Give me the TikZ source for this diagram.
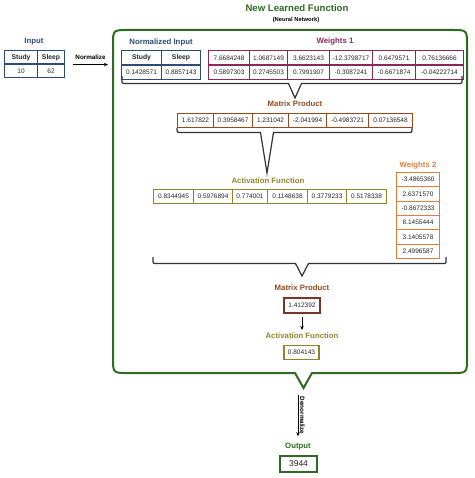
\documentclass[tikz,border=0pt]{standalone}
\usepackage{fontspec}
\setmainfont{Liberation Sans}
\usetikzlibrary{arrows.meta, positioning, calc}

\definecolor{inblue}{HTML}{2C4B78}
\definecolor{wonecol}{HTML}{8A2858}
\definecolor{mpcol}{HTML}{94491F}
\definecolor{afcol}{HTML}{8C8729}
\definecolor{wtwocol}{HTML}{E27E3A}
\definecolor{nngreen}{HTML}{2F6A22}
\definecolor{mptwocol}{HTML}{7A3429}

\tikzset{
  cell/.style={draw, line width=1.1pt, fill=white, inner sep=0pt, anchor=north west,
    text=black!85, font=\fontsize{6.5}{7}\selectfont},
  head/.style={cell, font=\fontsize{6.8}{8}\selectfont\bfseries},
  lbl/.style={inner sep=0pt, font=\fontsize{7.8}{9}\selectfont\bfseries},
  brace/.style={line width=1.2pt, black!80},
  arr/.style={-{Stealth[length=4pt,width=3.5pt]}, line width=0.9pt},
}

\begin{document}
\begin{tikzpicture}[x=1pt, y=-1pt]
  \useasboundingbox (0,0) rectangle (474,478);

  % title
  \node[lbl, text=nngreen, font=\fontsize{9.6}{11}\selectfont\bfseries] (title) at (297,8) {New Learned Function};
  \node[lbl, font=\fontsize{5.8}{7}\selectfont\bfseries] (subtitle) at (296,20) {(Neural Network)};

  % green frame with notch
  \draw[nngreen, line width=2pt] (113,45) -- (113,358) .. controls (113,373) .. (128,373)
    -- (295,373) -- (303.5,388) -- (312,373) -- (452,373) .. controls (467,373) .. (467,358)
    -- (467,45) .. controls (467,30) .. (452,30) -- (128,30) .. controls (113,30) .. (113,45) -- cycle;

  % input
  \node[lbl, text=inblue] (inlbl) at (34,42) {Input};
  \foreach \x/\w/\v [count=\i] in {4/33/Study, 37/27/Sleep}
    \node[head, draw=inblue, minimum width=\w pt, minimum height=13.5pt] (in-1-\i) at (\x,50) {\v};
  \foreach \x/\w/\v [count=\i] in {4/33/10, 37/27/62}
    \node[cell, draw=inblue, minimum width=\w pt, minimum height=13.5pt] (in-2-\i) at (\x,63.5) {\v};

  % normalized input
  \node[lbl, text=inblue] (ninlbl) at (161,42) {Normalized Input};
  \foreach \x/\w/\v [count=\i] in {121/40/Study, 161/39/Sleep}
    \node[head, draw=inblue, minimum width=\w pt, minimum height=14.5pt] (nin-1-\i) at (\x,50) {\v};
  \foreach \x/\w/\v [count=\i] in {121/40/0.1428571, 161/39/0.8857143}
    \node[cell, draw=inblue, minimum width=\w pt, minimum height=14.5pt] (nin-2-\i) at (\x,64.5) {\v};

  \draw[arr] ([xshift=8pt]in-1-2.south east) -- ($(in-1-2.south east -| nin-1-1.west)+(-13,0)$)
    node[midway, above=1.5pt, font=\fontsize{6.3}{7}\selectfont\bfseries] {Normalize};

  % weights 1
  \node[lbl, text=wonecol] (wonelbl) at (335,42) {Weights 1};
  \foreach \x/\w/\v [count=\i] in {208/41/7.6684248, 249/38/1.0687149, 287/42/3.6623143,
      329/43/-12.3798717, 372/43/0.6479571, 415/48/0.76136666}
    \node[cell, draw=wonecol, minimum width=\w pt, minimum height=14.5pt] (wone-1-\i) at (\x,50) {\v};
  \foreach \x/\w/\v [count=\i] in {208/41/0.5897303, 249/38/0.2745503, 287/42/0.7991907,
      329/43/-0.3087241, 372/43/-0.6671874, 415/48/-0.04222714}
    \node[cell, draw=wonecol, minimum width=\w pt, minimum height=14.5pt] (wone-2-\i) at (\x,64.5) {\v};

  \draw[brace] (122,76) -- (122,80) .. controls (122,83.5) .. (125.5,83.5) -- (288.5,83.5)
    -- (295,98) -- (301.5,83.5) -- (458.5,83.5) .. controls (462,83.5) .. (462,80) -- (462,76);

  % matrix product
  \node[lbl, text=mpcol] (mponelbl) at (295,104) {Matrix Product};
  \foreach \x/\w/\v [count=\i] in {177/36/1.617822, 213/39/0.3958467, 252/36/1.231042,
      288/38/-2.041994, 326/42/-0.4983721, 368/44/0.07136548}
    \node[cell, draw=mpcol, minimum width=\w pt, minimum height=14pt] (mpone-\i) at (\x,113) {\v};

  \draw[brace] (177,128) -- (177,129.5) .. controls (177,132.5) .. (180,132.5) -- (260.5,132.5)
    -- (267,173) -- (273.5,132.5) -- (409,132.5) .. controls (412,132.5) .. (412,129.5) -- (412,128);

  % activation function
  \node[lbl, text=afcol] (afonelbl) at (268,181) {Activation Function};
  \foreach \x/\w/\v [count=\i] in {153/40/0.8344945, 193/39/0.5976894, 232/35/0.774001,
      267/40/0.1148638, 307/39/0.3779233, 346/40/0.5178338}
    \node[cell, draw=afcol, minimum width=\w pt, minimum height=14.5pt] (afone-\i) at (\x,188.5) {\v};

  % weights 2
  \node[lbl, text=wtwocol] (wtwolbl) at (418,166) {Weights 2};
  \foreach \v [count=\i] in {-3.4865360, 2.6371570, -0.8672333, 8.1455444, 3.1405578, 2.4996587}
    \node[cell, draw=wtwocol, minimum width=43pt, minimum height=14.33pt] (wtwo-\i) at (396,{172+14.33*(\i-1)}) {\v};

  \draw[brace] (153,257) -- (153,260) .. controls (153,263.5) .. (156.5,263.5) -- (295.5,263.5)
    -- (302,276) -- (308.5,263.5) -- (442.5,263.5) .. controls (446,263.5) .. (446,260) -- (446,257);

  % output of the network
  \node[lbl, text=mpcol] (mptwolbl) at (302,288) {Matrix Product};
  \node[cell, anchor=center, draw=mptwocol, minimum width=36pt, minimum height=15pt] (mptwo) at (302,305.5) {1.412392};
  \node[lbl, text=afcol] (aftwolbl) at (302,336) {Activation Function};
  \node[cell, anchor=center, draw=afcol, minimum width=35pt, minimum height=13.5pt] (aftwo) at (301.5,352.5) {0.804143};
  \draw[arr] ([yshift=-3pt]mptwo.south) -- ([yshift=3pt]aftwolbl.north);

  % denormalized output
  \node[lbl, text=nngreen] (outlbl) at (298,447) {Output};
  \node[cell, anchor=center, draw=nngreen, line width=1.3pt, minimum width=37pt, minimum height=16pt,
    font=\fontsize{8.5}{10}\selectfont] (outval) at (298.5,464) {3944};
  \coordinate (dnstart) at (298,395);
  \draw[arr] (dnstart) -- ([yshift=7pt]outlbl.north)
    node[midway, anchor=south, rotate=-90, inner sep=1.5pt, font=\fontsize{6.3}{7}\selectfont\bfseries] {Denormalize};
\end{tikzpicture}
\end{document}
